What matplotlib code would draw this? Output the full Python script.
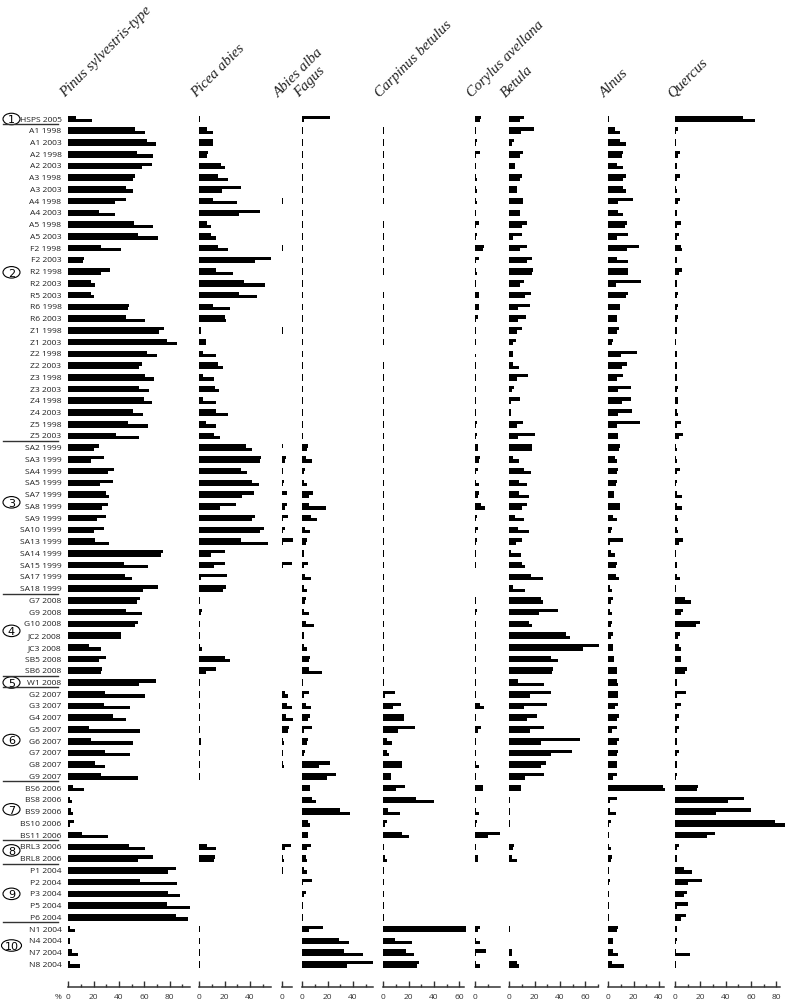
import numpy as np
import matplotlib
matplotlib.use('Agg')
import matplotlib.pyplot as plt
from matplotlib.ticker import FixedLocator
from matplotlib.patches import Ellipse

samples = ['HSPS 2005',
           'A1 1998', 'A1 2003', 'A2 1998', 'A2 2003', 'A3 1998', 'A3 2003', 'A4 1998', 'A4 2003',
           'A5 1998', 'A5 2003', 'F2 1998', 'F2 2003', 'R2 1998', 'R2 2003', 'R5 2003', 'R6 1998',
           'R6 2003', 'Z1 1998', 'Z1 2003', 'Z2 1998', 'Z2 2003', 'Z3 1998', 'Z3 2003', 'Z4 1998',
           'Z4 2003', 'Z5 1998', 'Z5 2003',
           'SA2 1999', 'SA3 1999', 'SA4 1999', 'SA5 1999', 'SA7 1999', 'SA8 1999', 'SA9 1999',
           'SA10 1999', 'SA13 1999', 'SA14 1999', 'SA15 1999', 'SA17 1999', 'SA18 1999',
           'G7 2008', 'G9 2008', 'G10 2008', 'JC2 2008', 'JC3 2008', 'SB5 2008', 'SB6 2008',
           'W1 2008',
           'G2 2007', 'G3 2007', 'G4 2007', 'G5 2007', 'G6 2007', 'G7 2007', 'G8 2007', 'G9 2007',
           'BS6 2006', 'BS8 2006', 'BS9 2006', 'BS10 2006', 'BS11 2006',
           'BRL3 2006', 'BRL8 2006',
           'P1 2004', 'P2 2004', 'P3 2004', 'P5 2004', 'P6 2004',
           'N1 2004', 'N4 2004', 'N7 2004', 'N8 2004']

group_names = ['1', '2', '3', '4', '5', '6', '7', '8', '9', '10']
group_rows = [0, 13.06, 32.65, 43.6, 48, 52.9, 58.8, 62.3, 66, 70.4]
# rows after which a group ends (line drawn under them)
group_ends = [0, 27, 40, 47, 48, 56, 61, 63, 68]

taxa = ['Pinus sylvestris-type', 'Picea abies', 'Abies alba', 'Fagus', 'Carpinus betulus',
        'Corylus avellana', 'Betula', 'Alnus', 'Quercus']

# two bars per sample: upper (a) and lower (b), % values
pinus_a = [6, 53, 62, 54, 66, 53, 46, 46, 24, 52, 55,
           26, 12.5, 33, 18, 18, 48, 46, 76, 78, 62, 58, 61,
           56, 60, 51, 47, 38,
           24, 28, 36, 35, 30, 31, 30, 28, 21, 75, 44, 45, 71,
           57, 46, 55, 42, 16, 30, 27,
           69,
           29, 28, 35, 16, 18, 29, 21, 26,
           4, 1.3, 2, 4.5, 10.5,
           48, 67,
           85, 57, 79, 78, 85,
           1.3, 1, 3.3, 1.3]
pinus_b = [19, 61, 69, 67, 58, 51, 51, 37, 37, 67, 71,
           42, 11.5, 26, 21, 20, 47, 61, 72, 86, 70, 56, 68,
           64, 66, 59, 63, 56,
           20, 18, 31, 25, 32, 27, 23, 20, 32, 73, 63, 50, 59,
           54, 58, 53, 42, 26, 24, 26,
           56,
           61, 49, 46, 57, 51, 49, 29, 55,
           12.5, 3, 4, 1, 31,
           61, 55,
           79, 86, 88, 96, 95,
           5, 1.5, 8, 9.5]

picea_a = [0.5, 6, 10.5, 7, 17, 14.5, 33, 10.5, 48, 6, 9,
           14.5, 57, 13.5, 35, 31, 10.5, 20, 1, 5, 3, 14.5, 3,
           12.5, 3, 13.5, 5, 11.5,
           37, 49, 33, 42, 43, 29, 44, 51, 33, 20, 20, 22, 21,
           0.8, 2, 0.8, 0.8, 0.8, 20, 13.5,
           0.5,
           0.8, 0.8, 0.8, 0.8, 1.2, 0.8, 0.8, 0.5,
           0, 0, 0, 0, 0,
           6, 12.5,
           0, 0, 0, 0, 0,
           0.3, 0.2, 0.5, 0.5]
picea_b = [0.5, 10.5, 10.5, 6, 20, 23, 18, 30, 31, 9, 13.5,
           23, 44, 27, 52, 46, 24, 21, 1.5, 5, 13.5, 19, 11.5,
           15.5, 13.5, 23, 13.5, 16.5,
           42, 48, 38, 47, 34, 16.5, 42, 48, 54, 9, 11.5, 1.5, 19,
           0.8, 1.5, 0.8, 0.8, 2, 24, 5.5,
           0.3,
           0.8, 0.8, 0.8, 0.8, 1.2, 0.8, 0.8, 0.5,
           0, 0, 0, 0, 0,
           13, 11.5,
           0, 0, 0, 0, 0,
           0.3, 0.2, 0.5, 0.5]

abies_a = [0, 0.3, 0, 0.5, 0.3, 0.5, 0.3, 0.8, 0.5, 0.3, 0,
           1, 0.3, 0.5, 0, 0.3, 0.5, 0.3, 0.8, 0, 0.3, 0.5, 0.5,
           0.3, 0.3, 0.3, 0.5, 0.5,
           1.3, 3.3, 1, 2, 4, 4, 5, 2.5, 9, 0.5, 8, 0.3, 0.5,
           0, 0, 0, 0, 0, 0, 0,
           0,
           3, 4, 3.3, 5.6, 0.8, 0.8, 1.3, 0.3,
           0, 0.2, 0.2, 0.2, 0,
           7, 0.8,
           1, 0, 0.3, 0.3, 0.2,
           0.3, 0, 0, 0.3]
abies_b = [0, 0.3, 0, 0.5, 0.3, 0.5, 0.3, 0.8, 0.5, 0.3, 0,
           0.8, 0.3, 0.5, 0, 0.3, 0.5, 0.3, 0.8, 0, 0.3, 0.5, 0.5,
           0.3, 0.3, 0.3, 0.5, 0.5,
           0.5, 3, 1, 1, 0.3, 3, 1, 1, 1, 0.5, 1, 0.3, 0.5,
           0, 0, 0, 0, 0, 0, 0,
           0,
           5, 8, 9, 5, 1.8, 1.3, 2, 0.3,
           0, 0.2, 0.2, 0.2, 0,
           3, 1.8,
           1, 0, 0.3, 0.3, 0.2,
           0.3, 0, 0, 0.3]

fagus_a = [22, 0.3, 0.5, 0.3, 0.5, 0.3, 0.8, 0.3, 0.8, 0.3, 0.2,
           0.5, 0.8, 0.3, 0.3, 0.8, 0.3, 0.3, 0.2, 0.4, 0.3, 0.8, 0.3,
           0.5, 0.2, 0.2, 0.3, 0.5,
           4.5, 3, 2, 1, 8.6, 5.5, 6.6, 2, 4, 1, 4.5, 2, 1.5,
           3, 1, 3, 1.5, 1, 6, 5.6,
           0.3,
           5, 3, 6.3, 7.6, 4.8, 1.8, 22, 27,
           6.3, 8, 30, 4.3, 4.3,
           6.8, 3,
           1.5, 7.3, 3, 0.8, 0.8,
           16.5, 29, 33, 56]
fagus_b = [1.3, 0.3, 0.5, 0.3, 0.5, 0.3, 0.8, 0.3, 0.8, 0.3, 0.2,
           0.8, 0.8, 0.3, 0.3, 0.8, 0.3, 0.3, 0.2, 0.4, 0.3, 0.8, 0.3,
           0.5, 0.2, 0.2, 0.3, 0.5,
           3.5, 8, 1, 3.5, 5, 19, 12, 6, 3, 1, 1.5, 7, 4,
           2, 5, 9, 1.5, 3.5, 5, 15.5,
           0.3,
           1.3, 7, 4.3, 1.3, 3.5, 1, 13.5, 19.5,
           6.3, 11, 38, 6, 4.3,
           3.5, 3.5,
           3.5, 0.5, 1.5, 0.8, 0.8,
           5.6, 37, 48, 35]

carpinus_a = [0, 0.3, 0.3, 0.3, 0.3, 0.3, 0.3, 0.3, 0, 0.3, 0.3,
              0.3, 0.3, 0.3, 0, 0.3, 0.3, 0.3, 0.3, 0.3, 0, 0.3, 0.3,
              0.3, 0.3, 0.3, 0.3, 0.3,
              0.3, 0.3, 0.3, 0.3, 0.3, 0.3, 0.3, 0.3, 0.3, 0.3, 0.3, 0.3, 0.3,
              0.3, 0.3, 0.3, 0.3, 0.3, 0.3, 0.5,
              0.5,
              9.2, 14, 16.6, 25, 3.2, 2.6, 14.5, 6,
              17, 26, 4, 2.6, 15,
              0.5, 1,
              0.3, 0.3, 0.3, 0.3, 0.3,
              65, 9.2, 18, 28.5]
carpinus_b = [0, 0.3, 0.3, 0.3, 0.3, 0.3, 0.3, 0.3, 0, 0.3, 0.3,
              0.3, 0.3, 0.3, 0, 0.3, 0.3, 0.3, 0.3, 0.3, 0, 0.3, 0.3,
              0.3, 0.3, 0.3, 0.3, 0.3,
              0.3, 0.3, 0.3, 0.3, 0.3, 0.3, 0.3, 0.3, 0.3, 0.3, 0.3, 0.3, 0.3,
              0.3, 0.3, 0.3, 0.3, 0.3, 0.3, 0.5,
              0.5,
              1.3, 7.9, 16.3, 11.9, 6.9, 4.2, 14.5, 6,
              10, 40, 13, 1.3, 20.5,
              0.5, 2.6,
              0.3, 0.3, 0.3, 0.3, 0.3,
              65, 23, 24.5, 26.4]

corylus_a = [5, 1, 1.5, 4, 0.5, 0.5, 0.5, 0.5, 0.5, 3.5, 1.5,
             7, 3.5, 0.5, 0.5, 3, 3.5, 2.5, 0.5, 0.5, 0.2, 0.5, 0.5,
             0.5, 0.5, 0.5, 1.5, 1.5,
             2.5, 4, 2, 1, 3, 4.7, 1.5, 2, 1.5, 0.5, 1, 0.3, 0.3,
             1, 1.5, 0.5, 1, 1, 1, 1,
             0.5,
             1, 3.7, 1, 4.5, 0.5, 0.5, 1, 1,
             6.3, 1, 0.5, 1.5, 19.5,
             1, 2.6,
             0.3, 0.3, 0.3, 0.3, 0.3,
             3.7, 1, 8.4, 1]
corylus_b = [4, 1, 0.5, 1, 0.5, 1.5, 1.5, 1.5, 0.5, 1, 0.5,
             6.3, 1, 1.5, 0.5, 3, 3, 1, 1, 0.5, 0.5, 1, 0.5,
             0.5, 0.5, 0.5, 1, 0.5,
             2, 3.5, 1, 3, 2, 8, 0.5, 1, 0.5, 0.5, 0.5, 0.3, 0.3,
             1, 0.5, 0.5, 0.5, 0.5, 1, 1,
             0.5,
             1, 7, 1, 2.6, 1, 0.5, 3, 1,
             6.3, 0.5, 3, 1, 10.5,
             1, 2.6,
             0.3, 0.3, 0.3, 0.3, 0.3,
             2.4, 3.7, 1, 3.7]

betula_a = [11.6, 19.2, 4, 10.5, 4.5, 10, 5.8, 10.5, 8.4, 14, 10.3,
            13.7, 17.7, 19, 11.9, 17.4, 16, 12.9, 10.3, 5.3, 3.2, 3.2, 14.5,
            3.7, 8.4, 1, 10.5, 20.5,
            18.2, 3.2, 11.9, 7.6, 7.9, 14.2, 4.5, 6.6, 10.3, 1, 10, 17.1, 2.6,
            25.3, 38.7, 15.8, 44.5, 70.6, 33.2, 34.3,
            7.1,
            33, 29.8, 22.1, 27.1, 56.1, 49.3, 28.7, 27.7,
            9.2, 0.3, 0.3, 0.3, 0,
            3.7, 1.8,
            0, 0, 0, 0, 0,
            0.3, 0, 2, 5.8]
betula_b = [8.4, 9, 1.8, 8.4, 4.5, 8.4, 5.8, 10.5, 8.4, 10, 3.2,
            8.4, 14.2, 18, 8.4, 12.4, 7.1, 7.1, 5.8, 3.2, 3.2, 7.9, 5.8,
            1.8, 1, 1, 5.8, 7.1,
            18.2, 7.4, 17.4, 14, 15.8, 9.7, 11.6, 15.5, 5, 9, 12.6, 26.9, 12.6,
            26.4, 23.5, 17.7, 48.2, 58, 38.2, 33.5,
            27.1,
            16.6, 11.3, 14, 16.3, 24.8, 33, 25.3, 12.6,
            9.2, 0.3, 0.3, 0.3, 0,
            3.2, 5.8,
            0, 0, 0, 0, 0,
            0.3, 0, 2, 7.9]

alnus_a = [0.5, 5.3, 9.2, 11.6, 7.1, 13.7, 11.3, 19.8, 7.6, 14.5, 15.3,
           24.2, 6.6, 15.3, 25.6, 15.8, 9.2, 7.1, 8.7, 3.4, 22.4, 14.8, 11.9,
           17.9, 18.2, 19, 24.8, 7.9,
           9.2, 5.3, 7.9, 6.9, 4.7, 9.5, 4, 2.6, 11.9, 1.8, 6.6, 6.1, 1.3,
           3.7, 1.3, 2.6, 4, 4, 4.5, 6.6,
           6.6,
           7.9, 7.9, 8.7, 6.6, 8.7, 7.9, 7.1, 7.1,
           43.2, 7.1, 1.3, 1.8, 0.8,
           0.8, 2.9,
           0.2, 1.3, 0.5, 0.8, 0.2,
           7.9, 4, 4, 2.6]
alnus_b = [0.5, 9.2, 13.7, 10.5, 11.9, 11.9, 14.2, 7.9, 11.3, 13.2, 6.6,
           15, 15.8, 15.3, 6.1, 14, 9.2, 7.1, 6.6, 2.9, 10, 11.1, 7.1,
           7.9, 10.8, 7.9, 7.1, 7.9,
           8.7, 6.6, 6.6, 6.1, 4.7, 9.5, 6.9, 1.8, 1.3, 5.3, 6.1, 8.7, 3.2,
           2.4, 2.6, 1.8, 2.4, 4, 4.5, 6.6,
           7.9,
           7.9, 5.3, 6.6, 2.6, 6.6, 6.6, 7.1, 4,
           45, 1.3, 6.1, 0.8, 0.8,
           1.8, 1.8,
           0.2, 0.8, 0.5, 0.8, 0.2,
           7.1, 4, 7.9, 12.4]

quercus_a = [54, 2, 1, 4, 1.3, 4, 0.8, 4, 1.8, 4.5, 2.9,
             5, 1.8, 5.8, 1.8, 2.1, 2.1, 2.1, 1.8, 0.8, 1.3, 1.8, 1.3,
             2.4, 2.4, 1.3, 4.5, 6.3,
             1, 0.5, 4.2, 1.3, 1.3, 1.8, 1.3, 1.3, 6.3, 0.5, 1.8, 1.8, 0.5,
             7.9, 6.6, 19.5, 4, 3.2, 4.5, 9.2,
             1.3,
             9, 4.5, 3.2, 3.2, 1.8, 3.2, 1.8, 1.3,
             18.4, 54.5, 60.3, 78.8, 31.9,
             3.2, 1.8,
             7.1, 21.1, 9.7, 10.3, 8.4,
             1.8, 1.8, 0.5, 0.8]
quercus_b = [63.2, 1, 0.8, 2.4, 1.3, 1.3, 1.8, 2.1, 1.8, 1.8, 1.3,
             5.8, 1.8, 3.2, 1.8, 1.3, 1.3, 1.3, 1.3, 0.8, 1.3, 1.3, 1.3,
             1.3, 2.4, 2.4, 1.8, 3.2,
             1.6, 1.8, 1.8, 0.8, 5.3, 5.3, 2.4, 2.4, 3.2, 0.5, 1.8, 4.2, 0.5,
             12.4, 4.5, 16.3, 2.4, 4.5, 4.5, 7.6,
             1.3,
             1.3, 1.8, 1.8, 1.3, 1.3, 1.3, 1.8, 0.8,
             17.7, 41.9, 32.1, 86.7, 25.6,
             1.3, 1.8,
             13.2, 10.5, 7.1, 1.8, 4.5,
             1.3, 0.8, 11.9, 0.8]

values_a = [pinus_a, picea_a, abies_a, fagus_a, carpinus_a, corylus_a, betula_a, alnus_a, quercus_a]
values_b = [pinus_b, picea_b, abies_b, fagus_b, carpinus_b, corylus_b, betula_b, alnus_b, quercus_b]

# layout in pixels
W, H = 785, 1003
PX = 1.265            # pixels per percent
ROW0, ROWH = 120, 11.74
AX_BOT = 988
x0_px = [68.3, 199.3, 281.7, 302.3, 383.3, 475, 509.3, 608.3, 675]
axis_end = [96, 57, 8, 56, 64, 19.5, 70, 44, 83]

top_px = ROW0 - ROWH
ymax = (AX_BOT - ROW0) / ROWH
bottom = 1 - AX_BOT / H
height = (AX_BOT - top_px) / H

fig = plt.figure(figsize=(W / 100, H / 100), dpi=100)
rows = np.arange(len(samples))

for i, name in enumerate(taxa):
    a = np.array(values_a[i])
    b = np.array(values_b[i])
    xmax = max(axis_end[i], max(a.max(), b.max()) + 0.3)
    ax = fig.add_axes([x0_px[i] / W, bottom, xmax * PX / W, height])
    ax.barh(rows - 0.14, a, height=0.28, color='black', linewidth=0)
    ax.barh(rows + 0.14, b, height=0.28, color='black', linewidth=0)
    ax.set_xlim(0, xmax)
    ax.set_ylim(ymax, -1)
    ax.patch.set_alpha(0)
    for s in ['left', 'right', 'top']:
        ax.spines[s].set_visible(False)
    ax.spines['bottom'].set_bounds(0, axis_end[i])
    ax.spines['bottom'].set_linewidth(1.1)
    ax.spines['bottom'].set_color('#333333')
    ax.set_yticks([])
    majors = [t for t in range(0, 100, 20) if t <= axis_end[i]]
    minors = [t for t in range(10, 100, 20) if t <= axis_end[i]]
    ax.xaxis.set_major_locator(FixedLocator(majors))
    ax.xaxis.set_minor_locator(FixedLocator(minors))
    ax.tick_params(axis='x', which='major', direction='in', length=4.5, width=1,
                   color='#333333', pad=4.5, labelsize=6, labelcolor='#333333')
    ax.tick_params(axis='x', which='minor', direction='in', length=2, width=1, color='#333333')
    for lab in ax.get_xticklabels():
        lab.set_family('Open Sans')
    fig.text((x0_px[i] - 3) / W, 1 - 98 / H, name, rotation=45, rotation_mode='anchor',
             ha='left', va='baseline', fontsize=10.7, style='italic',
             family='Liberation Serif', color='#222222')

fig.text(58 / W, 1 - 998 / H, '%', ha='center', va='center', fontsize=6,
         family='Open Sans', color='#333333')

# sample labels, group lines and group numbers
axl = fig.add_axes([0, bottom, 66 / W, height])
axl.set_xlim(0, 66)
axl.set_ylim(ymax, -1)
axl.axis('off')
for i, s in enumerate(samples):
    axl.text(61.5, i, s, ha='right', va='center', fontsize=6.1, family='Open Sans',
             color='#222222')
for r in group_ends:
    axl.plot([3, 58], [r + 0.42, r + 0.42], color='#333333', lw=1)
for g, r in zip(group_names, group_rows):
    w = 20 if len(g) > 1 else 17
    axl.add_patch(Ellipse((11.5, r), w, 11.5 / ROWH, fc='white', ec='black', lw=0.8))
    axl.text(11.5, r + 0.03, g, ha='center', va='center', fontsize=8, family='DejaVu Sans')

fig.savefig('out.png', dpi=100)
